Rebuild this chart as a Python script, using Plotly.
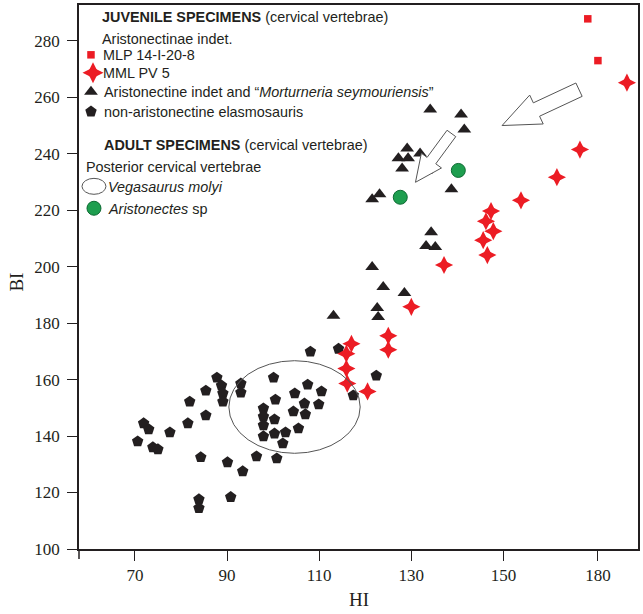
import plotly.graph_objects as go
import numpy as np

# ---------------- data (HI, BI) ----------------
mlp_hi = [168.3, 170.5]
mlp_bi = [287.8, 273.0]

mml_hi = [176.8, 166.6, 161.6, 153.8, 147.3, 146.2, 147.8, 145.6, 146.5, 137.1,
          130.0, 125.0, 125.0, 117.0, 115.9, 115.9, 116.1, 120.5]
mml_bi = [265.2, 241.5, 231.7, 223.5, 219.7, 216.1, 212.6, 209.4, 204.1, 200.6,
          185.8, 175.5, 170.6, 172.7, 169.2, 163.9, 158.6, 155.8]

tri_hi = [134.1, 140.8, 141.5, 129.1, 131.9, 127.2, 129.3, 128.0, 133.2, 138.7,
          121.5, 123.1, 134.3, 133.2, 135.2, 121.5, 123.9, 128.5, 113.1, 122.6, 122.8]
tri_bi = [255.7, 253.9, 248.6, 241.9, 240.1, 238.4, 238.4, 234.8, 234.1, 227.4,
          223.9, 225.7, 212.2, 207.3, 207.0, 199.9, 192.8, 190.7, 182.6, 185.4, 182.2]

pen_hi = [108.1, 114.2, 122.4, 117.4, 87.8, 88.8, 89.1, 89.1, 85.4, 93.0,
          93.0, 100.1, 107.5, 110.5, 104.7, 100.5, 109.9, 106.8, 104.4, 107.0,
          97.9, 97.9, 100.3, 97.9, 97.9, 100.3, 102.7, 105.5, 102.1, 96.4,
          100.8, 90.1, 93.4, 84.3, 85.4, 90.8, 81.9, 81.5, 71.9, 73.0,
          77.6, 70.6, 73.9, 75.0, 83.9, 83.9]
pen_bi = [169.9, 170.9, 161.4, 154.4, 160.7, 157.9, 155.1, 152.2, 156.1, 158.6,
          155.4, 160.7, 158.2, 155.8, 155.1, 152.9, 151.2, 151.5, 148.7, 147.7,
          149.8, 146.9, 145.9, 143.8, 139.9, 140.9, 141.3, 142.7, 137.4, 132.8,
          132.1, 130.7, 127.5, 132.5, 147.3, 118.4, 152.2, 144.5, 144.5, 142.4,
          141.3, 138.1, 136.0, 135.3, 117.6, 114.5]

aris_hi = [140.2, 127.6]
aris_bi = [234.1, 224.6]

# Vegasaurus molyi envelope (HI range, BI range)
veg_hi = [90.4, 118.9]
veg_bi = [133.9, 166.7]

# arrows (tail -> tip), data units
arrow_big = [(166.4, 262.7), (149.7, 250.0)]
arrow_small = [(138.7, 247.2), (130.9, 229.9)]

x_tickvals = [70, 90, 110, 130, 150, 170.5]
x_ticktext = ["70", "90", "110", "130", "150", "180"]
y_tickvals = [100, 120, 140, 160, 180, 200, 220, 240, 260, 280]

X_RANGE = [57.87, 179.2]
Y_RANGE = [100, 292.7]

RED = "#ec1c24"
BLACK = "#231f20"
GREEN = "#1e9e4f"
SANS = "Liberation Sans, Arial, sans-serif"
SERIF = "Liberation Serif, Times New Roman, serif"
FS = 14.4

W, H = 643, 614
ML, MR, MT, MB = 79, 4, 3, 65
PW, PH = W - ML - MR, H - MT - MB
SX = PW / (X_RANGE[1] - X_RANGE[0])
SY = PH / (Y_RANGE[1] - Y_RANGE[0])


def arrow_path(tail, tip, shaft_half, head_half, head_len):
    t = np.array([tail[0] * SX, -tail[1] * SY])
    p = np.array([tip[0] * SX, -tip[1] * SY])
    d = p - t
    d = d / np.linalg.norm(d)
    n = np.array([-d[1], d[0]])
    base = p - d * head_len
    pts = [p, base + n * head_half, base + n * shaft_half, t + n * shaft_half,
           t - n * shaft_half, base - n * shaft_half, base - n * head_half]
    s = "M " + " L ".join(f"{q[0] / SX:.4f},{-q[1] / SY:.4f}" for q in pts) + " Z"
    return s


def star_traces(xs, ys, size, **kw):
    # a thin four-pointed star built from a tall and a wide diamond
    out = []
    for sym in ("diamond-tall", "diamond-wide"):
        out.append(go.Scatter(x=xs, y=ys, mode="markers",
                              marker=dict(symbol=sym, size=size, color=RED, line=dict(width=0)),
                              **kw))
    return out


fig = go.Figure()

fig.add_trace(go.Scatter(x=pen_hi, y=pen_bi, mode="markers",
                         marker=dict(symbol="pentagon", size=12, color=BLACK, line=dict(width=0))))
fig.add_trace(go.Scatter(x=tri_hi, y=tri_bi, mode="markers",
                         marker=dict(symbol="triangle-up", size=12, color=BLACK, line=dict(width=0))))
for tr in star_traces(mml_hi, mml_bi, 13):
    fig.add_trace(tr)
fig.add_trace(go.Scatter(x=mlp_hi, y=mlp_bi, mode="markers",
                         marker=dict(symbol="square", size=7.5, color=RED, line=dict(width=0))))
fig.add_trace(go.Scatter(x=aris_hi, y=aris_bi, mode="markers",
                         marker=dict(symbol="circle", size=14, color=GREEN,
                                     line=dict(width=1, color="#0f6b34"))))


def px2paper(px, py):
    return (px - ML) / PW, (H - MB - py) / PH


# legend icons on an overlay axis in [0,1] units
def leg_icon(sym, sz, col, px, py, line=None):
    xx, yy = px2paper(px, py)
    fig.add_trace(go.Scatter(x=[xx], y=[yy], xaxis="x2", yaxis="y2", mode="markers",
                             marker=dict(symbol=sym, size=sz, color=col,
                                         line=line or dict(width=0))))


leg_icon("square", 7.5, RED, 91, 53)
for tr in star_traces([px2paper(93, 71)[0]], [px2paper(93, 71)[1]], 15, xaxis="x2", yaxis="y2"):
    fig.add_trace(tr)
leg_icon("triangle-up", 12, BLACK, 91, 90)
leg_icon("pentagon", 12, BLACK, 91, 110)
leg_icon("circle", 14, GREEN, 94, 207, dict(width=1, color="#0f6b34"))

shapes = []
shapes.append(dict(type="circle", xref="x", yref="y", x0=veg_hi[0], x1=veg_hi[1],
                   y0=veg_bi[0], y1=veg_bi[1], line=dict(color="#555555", width=1)))
shapes.append(dict(type="path", xref="x", yref="y",
                   path=arrow_path(arrow_big[0], arrow_big[1], 7.4, 16, 38),
                   line=dict(color="#555555", width=1), fillcolor="white"))
shapes.append(dict(type="path", xref="x", yref="y",
                   path=arrow_path(arrow_small[0], arrow_small[1], 5.4, 12.5, 27),
                   line=dict(color="#555555", width=1), fillcolor="white"))
# legend ellipse icon
ex0, ey0 = px2paper(82, 193)
ex1, ey1 = px2paper(106, 177)
shapes.append(dict(type="circle", xref="paper", yref="paper", x0=ex0, x1=ex1, y0=ey0, y1=ey1,
                   line=dict(color="#555555", width=1)))
# small axis extension below the origin
shapes.append(dict(type="line", xref="paper", yref="paper", x0=0, x1=0, y0=0, y1=-10 / PH,
                   line=dict(color=BLACK, width=1.5)))

annotations = []


def leg_text(txt, px, py, size=FS):
    xx, yy = px2paper(px, py)
    annotations.append(dict(text=txt, x=xx, y=yy, xref="paper", yref="paper",
                            xanchor="left", yanchor="middle", showarrow=False,
                            font=dict(family=SANS, size=size, color=BLACK)))


leg_text("<b>JUVENILE SPECIMENS</b> (cervical vertebrae)", 100, 15)
leg_text("Aristonectinae indet.", 100, 37)
leg_text("MLP 14-I-20-8", 101, 53)
leg_text("MML PV 5", 101, 71)
leg_text("Aristonectine indet and \u201c<i>Morturneria seymouriensis</i>\u201d", 102, 90)
leg_text("non-aristonectine elasmosauris", 102, 110)
leg_text("<b>ADULT SPECIMENS</b> (cervical vertebrae)", 102, 144)
leg_text("Posterior cervical vertebrae", 84, 166)
leg_text("<i>Vegasaurus molyi</i>", 106, 186)
leg_text("<i>Aristonectes</i> sp", 106, 208)

annotations.append(dict(text="HI", x=0.5, y=(H - MB - 600) / PH, xref="paper", yref="paper",
                        xanchor="center", yanchor="middle", showarrow=False,
                        font=dict(family=SERIF, size=19, color=BLACK)))
annotations.append(dict(text="BI", x=(16 - ML) / PW, y=0.49, xref="paper", yref="paper",
                        xanchor="center", yanchor="middle", showarrow=False, textangle=-90,
                        font=dict(family=SERIF, size=19, color=BLACK)))

axis_common = dict(showgrid=False, zeroline=False, showline=True, linecolor=BLACK,
                   linewidth=1.5, mirror=True, ticks="outside", ticklen=10, tickwidth=1.2,
                   tickcolor=BLACK, tickfont=dict(family=SERIF, size=17, color=BLACK))

fig.update_layout(
    width=W, height=H,
    margin=dict(l=ML, r=MR, t=MT, b=MB),
    paper_bgcolor="white", plot_bgcolor="white",
    showlegend=False,
    xaxis=dict(range=X_RANGE, tickvals=x_tickvals, ticktext=x_ticktext, **axis_common),
    yaxis=dict(range=Y_RANGE, tickvals=y_tickvals, ticklabelstandoff=4, **axis_common),
    xaxis2=dict(range=[0, 1], overlaying="x", visible=False),
    yaxis2=dict(range=[0, 1], overlaying="y", visible=False),
    shapes=shapes,
    annotations=annotations,
)

fig.write_html("out.html")
